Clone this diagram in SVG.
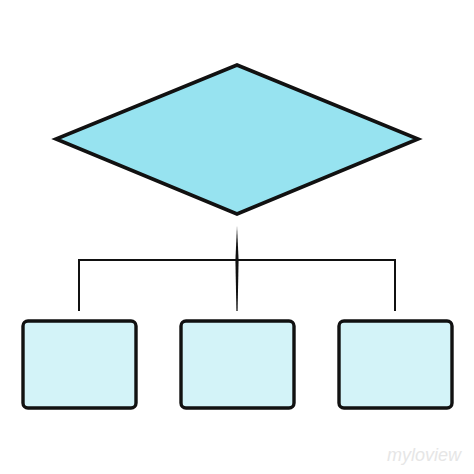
<svg xmlns="http://www.w3.org/2000/svg" width="474" height="474" viewBox="0 0 474 474">
<style>
.box{fill:#d3f3f8;stroke:#111;stroke-width:3.4}
.dia{fill:#97e3f0;stroke:#111;stroke-width:3.6;stroke-linejoin:miter}
.ln{stroke:#111;stroke-width:2;fill:none}
.wm{font-family:"Liberation Sans",Arial,sans-serif;font-size:18px;fill:#e6e6e6;font-style:italic}
</style>
<rect width="474" height="474" fill="#fff"/>
<g id="decision"><polygon class="dia" points="237,65 418,139 237,214 56,139"/></g>
<g id="connectors">
<path class="ln" d="M79,311 V260 H395 V311"/>
<path d="M237,226 L238.6,260 L237.6,311 L236.4,311 L235.4,260 Z" fill="#111"/>
</g>
<g id="box1"><rect class="box" x="23" y="321" width="113" height="87" rx="5"/></g>
<g id="box2"><rect class="box" x="181" y="321" width="113" height="87" rx="5"/></g>
<g id="box3"><rect class="box" x="339" y="321" width="113" height="87" rx="5"/></g>
<text class="wm" x="387" y="461">myloview</text>
</svg>
